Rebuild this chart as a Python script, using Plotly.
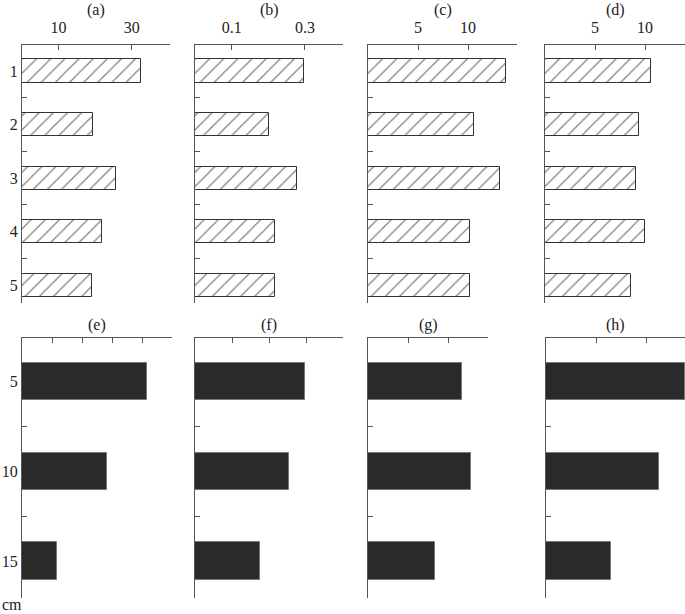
import plotly.graph_objects as go

# categories
samples = ["1", "2", "3", "4", "5"]
depths = ["5", "10", "15"]

# top row (hatched bars), one list per panel
panel_a = [32.6, 19.4, 25.7, 21.9, 19.1]
panel_b = [0.298, 0.203, 0.278, 0.218, 0.218]
panel_c = [13.8, 10.6, 13.2, 10.2, 10.2]
panel_d = [10.6, 9.4, 9.1, 10.0, 8.6]

# bottom row (solid bars)
panel_e = [4.17, 2.83, 1.16]
panel_f = [2.98, 2.53, 1.76]
panel_g = [2.35, 2.57, 1.67]
panel_h = [2.78, 2.26, 1.29]

# x tick labels of the top row
ticks_a = [10, 30]
ticks_b = [0.1, 0.3]
ticks_c = [5, 10]
ticks_d = [5, 10]

W, H = 685, 614
FONT = "Liberation Serif, Times New Roman, serif"
AXIS = "#555555"
TEXT = "#222222"


def px_x(a, b):
    return [a / W, b / W]


def px_y(top, bottom):
    return [1 - bottom / H, 1 - top / H]


# (title, values, categories, x domain px, x range, tickvals, show tick labels, hatched)
panels = [
    ("(a)", panel_a, samples, (22, 170), [0, 40.5], ticks_a, True, True),
    ("(b)", panel_b, samples, (195, 343), [0, 0.404], ticks_b, True, True),
    ("(c)", panel_c, samples, (368, 517), [0, 14.9], ticks_c, True, True),
    ("(d)", panel_d, samples, (545, 685), [0, 14.0], ticks_d, True, True),
    ("(e)", panel_e, depths, (22, 172), [0, 5], [1, 2, 3, 4, 5], False, False),
    ("(f)", panel_f, depths, (195, 343), [0, 4], [1, 2, 3, 4], False, False),
    ("(g)", panel_g, depths, (368, 488), [0, 3], [1, 2, 3], False, False),
    ("(h)", panel_h, depths, (546, 685), [0, 2.78], [1, 2], False, False),
]

fig = go.Figure()
annotations = []

for i, (title, values, cats, xdom, xrange_, tickvals, labels, hatched) in enumerate(panels):
    n = i + 1
    top_row = i < 4
    ypos = list(range(1, len(cats) + 1))
    if hatched:
        marker = dict(
            color="white",
            line=dict(color="#333333", width=1),
            pattern=dict(shape="/", fgcolor="#000000", bgcolor="white",
                         size=10, solidity=0.12),
        )
        width = 0.43
    else:
        marker = dict(color="#2a2a2a", line=dict(color="#777777", width=1))
        width = 0.42
    fig.add_trace(go.Bar(
        x=values, y=ypos, orientation="h", width=width, marker=marker,
        xaxis=f"x{n}", yaxis=f"y{n}", showlegend=False,
    ))

    ydom = px_y(45, 303) if top_row else px_y(338, 598)
    yrange = [len(cats) + 0.33, 0.515] if top_row else [len(cats) + 0.41, 0.515]
    first_col = i % 4 == 0

    fig.layout[f"xaxis{n}"] = dict(
        domain=px_x(*xdom), anchor=f"y{n}", side="top", range=xrange_,
        showline=True, linecolor=AXIS, linewidth=1,
        ticks="inside", ticklen=5, tickcolor=AXIS,
        tickmode="array", tickvals=tickvals,
        ticktext=[str(t) for t in tickvals] if labels else [""] * len(tickvals),
        ticklabelstandoff=5,
        showgrid=False, zeroline=False, fixedrange=True,
    )
    fig.layout[f"yaxis{n}"] = dict(
        domain=ydom, anchor=f"x{n}", range=yrange,
        showline=True, linecolor=AXIS, linewidth=1,
        ticks="inside", ticklen=0, tickcolor=AXIS,
        tickmode="array", tickvals=ypos,
        ticktext=cats if first_col else [""] * len(cats),
        minor=dict(tickmode="array", tickvals=[p + 0.5 for p in ypos[:-1]],
                   ticks="inside", ticklen=5, tickcolor=AXIS),
        showgrid=False, zeroline=False, fixedrange=True,
    )

    annotations.append(dict(
        text=title, xref="paper", yref="paper",
        x=(xdom[0] + xdom[1]) / 2 / W,
        y=1 - (10 if top_row else 325) / H,
        showarrow=False, xanchor="center", yanchor="middle",
        font=dict(family=FONT, size=16, color=TEXT),
    ))

annotations.append(dict(
    text="cm", xref="paper", yref="paper", x=12 / W, y=1 - 604 / H,
    showarrow=False, xanchor="center", yanchor="middle",
    font=dict(family=FONT, size=16, color=TEXT),
))

fig.update_layout(
    width=W, height=H,
    margin=dict(l=0, r=0, t=0, b=0),
    paper_bgcolor="white", plot_bgcolor="white",
    font=dict(family=FONT, size=16, color=TEXT),
    annotations=annotations,
    bargap=0,
)

fig.write_html(
    "out.html",
    config={"displayModeBar": False},
    post_script="document.body.style.margin = '0';",
)
